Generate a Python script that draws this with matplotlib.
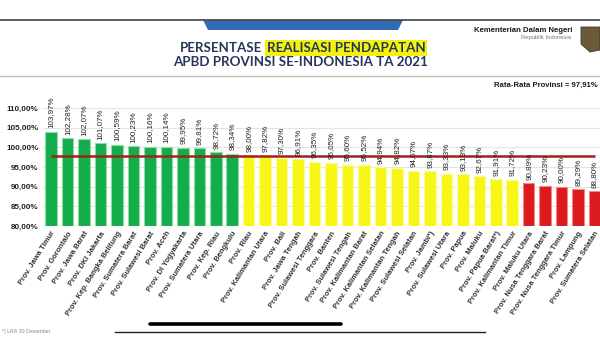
import numpy as np
import matplotlib
matplotlib.use('Agg')
import matplotlib.pyplot as plt
from matplotlib.lines import Line2D
from matplotlib.patches import Polygon

provinces = [
    'Prov. Jawa Timur', 'Prov. Gorontalo', 'Prov. Jawa Barat', 'Prov. DKI Jakarta',
    'Prov. Kep. Bangka Belitung', 'Prov. Sumatera Barat', 'Prov. Sulawesi Barat', 'Prov. Aceh',
    'Prov. DI Yogyakarta', 'Prov. Sumatera Utara', 'Prov. Kep. Riau', 'Prov. Bengkulu',
    'Prov. Riau', 'Prov. Kalimantan Utara', 'Prov. Bali', 'Prov. Jawa Tengah',
    'Prov. Sulawesi Tenggara', 'Prov. Banten', 'Prov. Sulawesi Tengah', 'Prov. Kalimantan Barat',
    'Prov. Kalimantan Selatan', 'Prov. Kalimantan Tengah', 'Prov. Sulawesi Selatan', 'Prov. Jambi*)',
    'Prov. Sulawesi Utara', 'Prov. Papua', 'Prov. Maluku', 'Prov. Papua Barat*)',
    'Prov. Kalimantan Timur', 'Prov. Maluku Utara', 'Prov. Nusa Tenggara Barat',
    'Prov. Nusa Tenggara Timur', 'Prov. Lampung', 'Prov. Sumatera Selatan',
]
realisasi = [
    103.97, 102.28, 102.07, 101.07, 100.59, 100.23, 100.16, 100.14, 99.95, 99.81, 98.72, 98.34,
    98.00, 97.82, 97.30, 96.91, 96.35, 96.05, 95.60, 95.52, 94.94, 94.82, 94.07, 93.87,
    93.33, 93.13, 92.67, 91.91, 91.72, 90.89, 90.23, 90.00, 89.29, 88.80,
]
kategori = ['hijau'] * 12 + ['kuning'] * 17 + ['merah'] * 5
rata_rata = 97.91
yticks = [80, 85, 90, 95, 100, 105, 110]

warna = {'hijau': '#14ad4c', 'kuning': '#f8f617', 'merah': '#da1a1d'}
tepi = {'hijau': '#8fdca4', 'kuning': '#fbfb9a', 'merah': '#ee8a8a'}

W, H = 600, 355
fig = plt.figure(figsize=(6, 3.55), dpi=100)


def fx(x):
    return x / W


def fy(y):
    return 1 - y / H


# chart area
ax = fig.add_axes([fx(42.8), fy(226), fx(557.2), (226 - 88.3) / H])
x = np.arange(len(provinces))
ax.bar(x, [v - 80 for v in realisasi], bottom=80, width=0.7,
       color=[warna[k] for k in kategori], edgecolor=[tepi[k] for k in kategori],
       linewidth=0.8, zorder=2)
ax.hlines(rata_rata, 0, len(provinces) - 1, color='#9e2219', linewidth=1.8, zorder=3)

for xi, v in zip(x, realisasi):
    ax.text(xi, v + 0.9, f'{v:.2f}%'.replace('.', ','), rotation=90, ha='center',
            va='bottom', fontsize=5.8, color='#222222', family='Liberation Sans')

ax.set_xlim(-0.5, 33.33)
ax.set_ylim(80, 115)
ax.set_yticks(yticks)
ax.set_yticklabels([f'{t:.2f}%'.replace('.', ',') for t in yticks], fontsize=5.8,
                   fontweight='bold', color='#222222', family='Liberation Sans')
ax.set_xticks(x)
ax.set_xticklabels(provinces, rotation=58, ha='right', va='top', rotation_mode='anchor',
                   fontsize=5.4, fontweight='bold', color='#333333', family='Liberation Sans')
ax.tick_params(length=0, pad=3)
ax.grid(axis='y', color='#e4e4e4', linewidth=0.8, zorder=0)
for s in ax.spines.values():
    s.set_visible(False)

# header
fig.add_artist(Line2D([0, 1], [fy(20), fy(20)], color='#4a4f55', linewidth=1.3))
fig.add_artist(Polygon([(fx(203), fy(20)), (fx(403), fy(20)), (fx(398), fy(30)), (fx(208), fy(30))],
                       closed=True, facecolor='#2f6cb3', edgecolor='none'))
fig.add_artist(Line2D([0, 1], [fy(76), fy(76)], color='#bdbdbd', linewidth=1.0))

navy = '#26365a'
fig.text(fx(262), fy(48), 'PERSENTASE', ha='right', va='center', fontsize=9.6,
         fontweight='bold', color=navy, family='Lato')
fig.text(fx(267), fy(48), 'REALISASI PENDAPATAN', ha='left', va='center', fontsize=9.6,
         fontweight='bold', color=navy, family='Lato',
         bbox=dict(boxstyle='square,pad=0.12', facecolor='#f4f20c', edgecolor='none'))
fig.text(fx(301), fy(62), 'APBD PROVINSI SE-INDONESIA TA 2021', ha='center', va='center',
         fontsize=9.6, fontweight='bold', color=navy, family='Lato')

fig.text(fx(572), fy(30), 'Kementerian Dalam Negeri', ha='right', va='center', fontsize=5.6,
         fontweight='bold', color='#1a1a1a', family='Liberation Sans')
fig.text(fx(571), fy(37.5), 'Republik Indonesia', ha='right', va='center', fontsize=4.2,
         color='#777777', family='Liberation Sans')
fig.add_artist(Polygon([(fx(581), fy(27)), (fx(600), fy(27)), (fx(600), fy(50)), (fx(590), fy(52)),
                        (fx(581), fy(44))], closed=True, facecolor='#6b5a35', edgecolor='#3a3a3a',
                       linewidth=0.6))

fig.text(fx(598), fy(85.5), 'Rata-Rata Provinsi = 97,91%', ha='right', va='center', fontsize=5.6,
         fontweight='bold', color='#1a1a1a', family='Liberation Sans')

# footer
fig.add_artist(Line2D([fx(150), fx(341)], [fy(324), fy(324)], color='black', linewidth=2.6,
                      solid_capstyle='round'))
fig.add_artist(Line2D([fx(115), fx(485)], [fy(332), fy(332)], color='#222222', linewidth=1.0))
fig.text(fx(2), fy(332), '*) LRA 30 Desember', ha='left', va='center', fontsize=3.8,
         color='#888888', family='Liberation Sans')

fig.savefig('out.png', dpi=100, facecolor='white')
